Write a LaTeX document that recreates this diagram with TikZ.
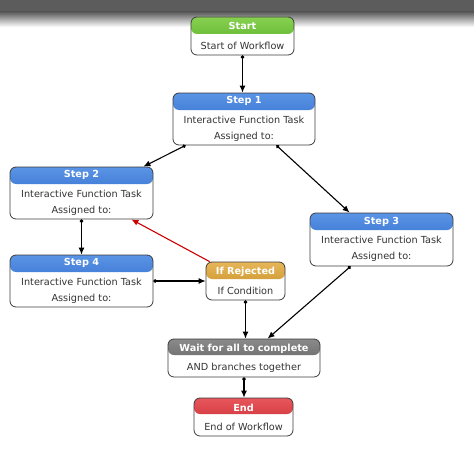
\documentclass[tikz,border=0pt]{standalone}
\usepackage{fontspec}
\setsansfont{DejaVu Sans}
\usepackage{xcolor}
\usepackage{tikz}
\usetikzlibrary{arrows.meta,positioning}

\definecolor{grnA}{HTML}{88D050}
\definecolor{grnB}{HTML}{4FAA22}
\definecolor{bluA}{HTML}{5A94E6}
\definecolor{bluB}{HTML}{1D5CBE}
\definecolor{gldA}{HTML}{E6B658}
\definecolor{gldB}{HTML}{C0861C}
\definecolor{gryA}{HTML}{8A8A8A}
\definecolor{gryB}{HTML}{565656}
\definecolor{redA}{HTML}{E8565B}
\definecolor{redB}{HTML}{BD242A}
\definecolor{edge}{HTML}{3C3C3C}
\definecolor{txt}{HTML}{333333}

\newcommand{\hd}[1]{{\bfseries\color{white}#1}}

\begin{document}
\begin{tikzpicture}[
  x=1pt, y=-1pt,
  wf/.style={draw=edge, line width=0.8pt, rounded corners=6pt, fill=white,
    align=center, text=txt, inner sep=0pt,
    font=\sffamily\fontsize{9.7}{16}\selectfont},
  head/.style n args={3}{path picture={
    \shade[top color=#1, bottom color=#2]
      (path picture bounding box.north west)
      rectangle ([yshift=-#3]path picture bounding box.north east);}},
  startbox/.style={wf, head={grnA}{grnB}{17pt}},
  stepbox/.style={wf, head={bluA}{bluB}{17pt}},
  condbox/.style={wf, head={gldA}{gldB}{17pt}},
  waitbox/.style={wf, head={gryA}{gryB}{16pt}},
  endbox/.style={wf, head={redA}{redB}{16pt}},
  ar/.style={{Circle[length=3.5pt]}-{Latex[length=7pt,width=6pt]},
    line width=1.1pt, black},
  rar/.style={-{Latex[length=7pt,width=6pt]}, line width=1.1pt,
    color=red!80!black}
]
\useasboundingbox (0,0) rectangle (474,452);

% window shadow at the top
\fill[black!64] (0,0) rectangle (474,12);
\shade[top color=black!64, bottom color=white] (0,12) rectangle (474,27);

\node[startbox, minimum width=103pt, minimum height=38pt] (start)
  at (242.5,36) {\hd{Start}\\[3.5pt]Start of Workflow};

\node[stepbox, minimum width=142pt, minimum height=52pt] (s1)
  at (244,119) {\hd{Step 1}\\[3.5pt]Interactive Function Task\\Assigned to:};
\node[stepbox, minimum width=143pt, minimum height=52pt] (s2)
  at (81.5,193) {\hd{Step 2}\\[3.5pt]Interactive Function Task\\Assigned to:};
\node[stepbox, minimum width=143pt, minimum height=53pt] (s3)
  at (381.5,239.5) {\hd{Step 3}\\[3.5pt]Interactive Function Task\\Assigned to:};
\node[stepbox, minimum width=143pt, minimum height=52pt] (s4)
  at (81.5,281) {\hd{Step 4}\\[3.5pt]Interactive Function Task\\Assigned to:};

\node[condbox, minimum width=79pt, minimum height=38pt] (ifrej)
  at (245.5,281) {\hd{If Rejected}\\[3.5pt]If Condition};

\node[waitbox, minimum width=152pt, minimum height=38pt] (wait)
  at (244,358) {\hd{Wait for all to complete}\\[3pt]AND branches together};

\node[endbox, minimum width=99pt, minimum height=38pt] (end)
  at (243.5,417) {\hd{End}\\[3pt]End of Workflow};

\draw[ar] (start.south) -- (start.south |- s1.north);
\draw[ar] ([xshift=13pt]s1.south west) -- ([xshift=-10pt]s2.north east);
\draw[ar] ([xshift=-39pt]s1.south east) -- ([xshift=40pt]s3.north west);
\draw[ar] (s2.south) -- (s4.north);
\draw[ar] (s4.east) -- (ifrej.west);
\draw[rar] ([xshift=4pt]ifrej.north west) -- ([xshift=-22pt]s2.south east);
\draw[ar] (ifrej.south) -- (ifrej.south |- wait.north);
\draw[ar] ([xshift=41pt]s3.south west) -- ([xshift=100pt]wait.north west);
\draw[ar] (wait.south) -- (wait.south |- end.north);
\end{tikzpicture}
\end{document}
